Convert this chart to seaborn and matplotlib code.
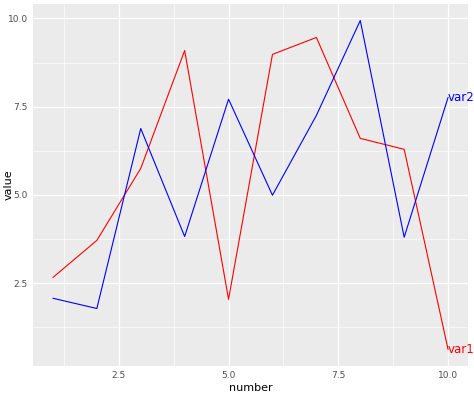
import matplotlib
import matplotlib.pyplot as plt
import numpy as np
import pandas as pd
import seaborn as sns

matplotlib.use("Agg")

number = list(range(1, 11))
var1 = [2.66, 3.71, 5.75, 9.09, 2.04, 8.98, 9.46, 6.60, 6.29, 0.62]
var2 = [2.07, 1.78, 6.88, 3.82, 7.71, 4.99, 7.25, 9.94, 3.80, 7.76]
series_names = ["var1", "var2"]
series_colors = {"var1": "#FF0000", "var2": "#0000FF"}

df = pd.DataFrame({"number": number, "var1": var1, "var2": var2})
long_df = df.melt(id_vars="number", var_name="variable", value_name="value")

sns.set_theme(style="darkgrid", rc={
    "axes.facecolor": "#EBEBEB",
    "grid.color": "white",
    "axes.edgecolor": "#EBEBEB",
})
plt.rcParams["font.family"] = ["DejaVu Sans"]

fig = plt.figure(figsize=(4.74, 3.93), dpi=100)
ax = fig.add_axes([0.070, 0.069, 0.917, 0.921])

sns.lineplot(data=long_df, x="number", y="value", hue="variable",
             palette=series_colors, linewidth=0.8, legend=False, ax=ax)

# labels at the last point
for name in series_names:
    last = df.iloc[-1]
    ax.text(last["number"], last[name], name, color=series_colors[name],
            ha="left", va="center", fontsize=8.5)

ax.set_xlim(0.55, 10.45)
ax.set_ylim(0.154, 10.41)
ax.set_xticks([2.5, 5.0, 7.5, 10.0])
ax.set_yticks([2.5, 5.0, 7.5, 10.0])
ax.set_xticks([1.25, 3.75, 6.25, 8.75], minor=True)
ax.set_yticks([1.25, 3.75, 6.25, 8.75], minor=True)
ax.grid(which="major", color="white", linewidth=0.9)
ax.grid(which="minor", color="white", linewidth=0.45)
ax.tick_params(which="major", length=2.5, width=0.6, color="#333333",
               labelsize=6.5, labelcolor="#4D4D4D", pad=1.5)
ax.tick_params(which="minor", length=0)
for s in ax.spines.values():
    s.set_visible(False)

ax.set_xlabel("number", fontsize=8, color="black", labelpad=2)
ax.set_ylabel("value", fontsize=8, color="black")
ax.yaxis.set_label_coords(-0.044, 0.5)

fig.savefig("out.png", dpi=100)
